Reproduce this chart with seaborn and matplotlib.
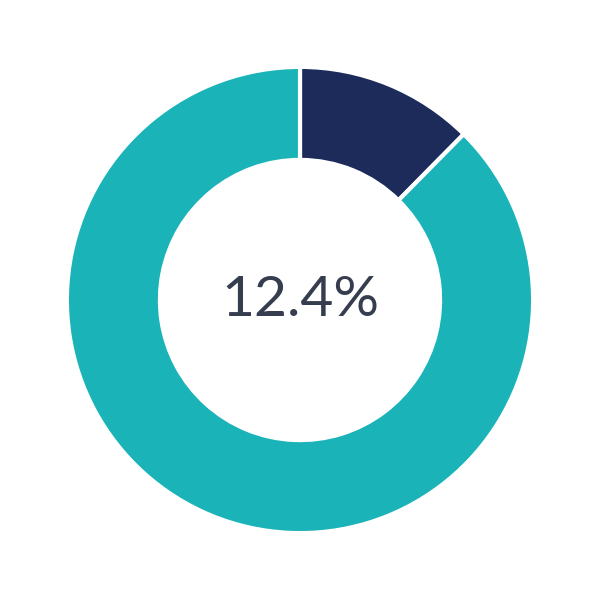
import matplotlib
matplotlib.use("Agg")
import matplotlib.pyplot as plt
import seaborn as sns

# share shown in the donut
labels = ["Share", "Rest"]
values = [12.4, 87.6]
center_label = "12.4%"
colors = ["#1c2b5a", "#1ab3b8"]

sns.set_theme(style="white")
plt.rcParams['font.family'] = ['Lato', 'DejaVu Sans']

fig = plt.figure(figsize=(6, 6), dpi=100)
ax = fig.add_axes([0, 0, 1, 1])
ax.pie(values,
       colors=colors,
       startangle=90,
       counterclock=False,
       radius=0.777,
       wedgeprops=dict(width=0.31, edgecolor="white", linewidth=3))
ax.text(0, 0, center_label, ha="center", va="center",
        fontsize=41, color="#363d4f")
ax.set_xlim(-1, 1)
ax.set_ylim(-1, 1)
ax.set_aspect("equal")
ax.axis("off")
fig.savefig("out.png", dpi=100, facecolor="white")
